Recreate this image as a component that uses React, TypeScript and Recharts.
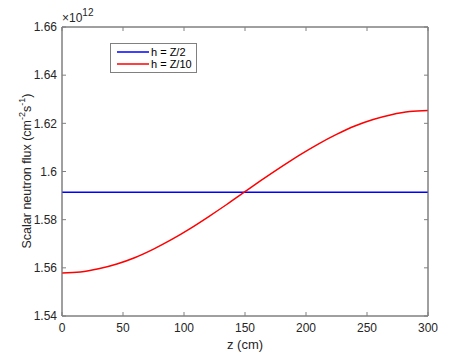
import React from 'react';
import { LineChart, Line, XAxis, YAxis, Legend, ReferenceArea } from 'recharts';

// axial position (cm)
const zValues = [0, 15, 30, 45, 60, 75, 90, 105, 120, 135, 150, 165, 180, 195, 210, 225, 240, 255, 270, 285, 300];
// scalar flux, units of 1e12 cm^-2 s^-1
const fineFlux = [1.5579, 1.5583, 1.5596, 1.5616, 1.5643, 1.5678, 1.5718, 1.5763, 1.5812, 1.5863, 1.5916,
  1.5969, 1.602, 1.6069, 1.6114, 1.6154, 1.6189, 1.6216, 1.6236, 1.6249, 1.6253];
const coarseFlux = [1.5914, 1.5914, 1.5914, 1.5914, 1.5914, 1.5914, 1.5914, 1.5914, 1.5914, 1.5914, 1.5914,
  1.5914, 1.5914, 1.5914, 1.5914, 1.5914, 1.5914, 1.5914, 1.5914, 1.5914, 1.5914];
const xTicks = [0, 50, 100, 150, 200, 250, 300];
const yTicks = [1.54, 1.56, 1.58, 1.6, 1.62, 1.64, 1.66];
const seriesNames = ['h = Z/2', 'h = Z/10'];

const data = zValues.map((z, i) => ({ z, coarse: coarseFlux[i], fine: fineFlux[i] }));

const FONT = 'Arial, "Liberation Sans", Helvetica, sans-serif';
const TEXT = '#262626';
const AXIS = '#808080';

const renderLegend = () => (
  <div style={{ border: `1px solid ${AXIS}`, background: '#fff', padding: '2px 4px 2px 6px', fontFamily: FONT, fontSize: 11, color: '#000', lineHeight: '12px' }}>
    {[['#0000ff', seriesNames[0]], ['#ff0000', seriesNames[1]]].map(([c, n]) => (
      <div key={n} style={{ display: 'flex', alignItems: 'center' }}>
        <svg width={34} height={12}><line x1={0} y1={6} x2={32} y2={6} stroke={c} strokeWidth={1.5} /></svg>
        <span>{n}</span>
      </div>
    ))}
  </div>
);

const YLabel = () => (
  <text transform="rotate(-90, 27, 171)" x={27} y={171} textAnchor="middle" dominantBaseline="central" fontFamily={FONT} fontSize={12.5} fill={TEXT}>
    Scalar neutron flux (cm<tspan dy={-5} fontSize={9}>-2</tspan><tspan dy={5}>s</tspan><tspan dy={-5} fontSize={9}>-1</tspan><tspan dy={5}>)</tspan>
  </text>
);

const App: React.FC = () => {
  return (
    <div style={{ position: 'absolute', left: 0, top: 0, background: '#fff' }}>
      <LineChart width={474} height={355} data={data} margin={{ top: 26, right: 45, bottom: 0, left: 0 }}>
        <XAxis
          dataKey="z"
          type="number"
          domain={[0, 300]}
          ticks={xTicks}
          stroke={AXIS}
          tickSize={-4}
          tickMargin={11}
          tick={{ fill: TEXT, fontSize: 12, fontFamily: FONT }}
          height={39}
          label={{ value: 'z (cm)', position: 'insideBottom', offset: 6, fill: TEXT, fontSize: 13, fontFamily: FONT }}
        />
        <XAxis xAxisId="top" orientation="top" dataKey="z" type="number" domain={[0, 300]} ticks={xTicks}
          stroke={AXIS} tickSize={-4} height={1} tickFormatter={() => ''} />
        <YAxis
          domain={[1.54, 1.66]}
          ticks={yTicks}
          stroke={AXIS}
          width={62}
          tickSize={-4}
          tickMargin={9}
          tickFormatter={(v: number) => String(v)}
          tick={{ fill: TEXT, fontSize: 12, fontFamily: FONT }}
          label={<YLabel />}
        />
        <YAxis yAxisId="right" orientation="right" domain={[1.54, 1.66]} ticks={yTicks}
          stroke={AXIS} width={1} tickSize={-4} tickFormatter={() => ''} />
        <ReferenceArea x1={0} x2={300} y1={1.54} y2={1.66} fill="none" stroke={AXIS} strokeWidth={1} ifOverflow="visible" />
        <Legend verticalAlign="middle" content={renderLegend} wrapperStyle={{ position: 'absolute', left: 110, top: 43, width: 'auto' }} />
        <Line xAxisId="top" yAxisId="right" dataKey="coarse" stroke="none" legendType="none" dot={false} activeDot={false} isAnimationActive={false} />
        <Line dataKey="coarse" name={seriesNames[0]} stroke="#0000ff" strokeWidth={1.5} dot={false} isAnimationActive={false} />
        <Line dataKey="fine" name={seriesNames[1]} type="monotone" stroke="#ff0000" strokeWidth={1.5} dot={false} isAnimationActive={false} />
        <text x={62} y={22} fontFamily={FONT} fontSize={12} fill={TEXT}>
          ×10<tspan dy={-6} fontSize={10}>12</tspan>
        </text>
      </LineChart>
    </div>
  );
};

export default App;
